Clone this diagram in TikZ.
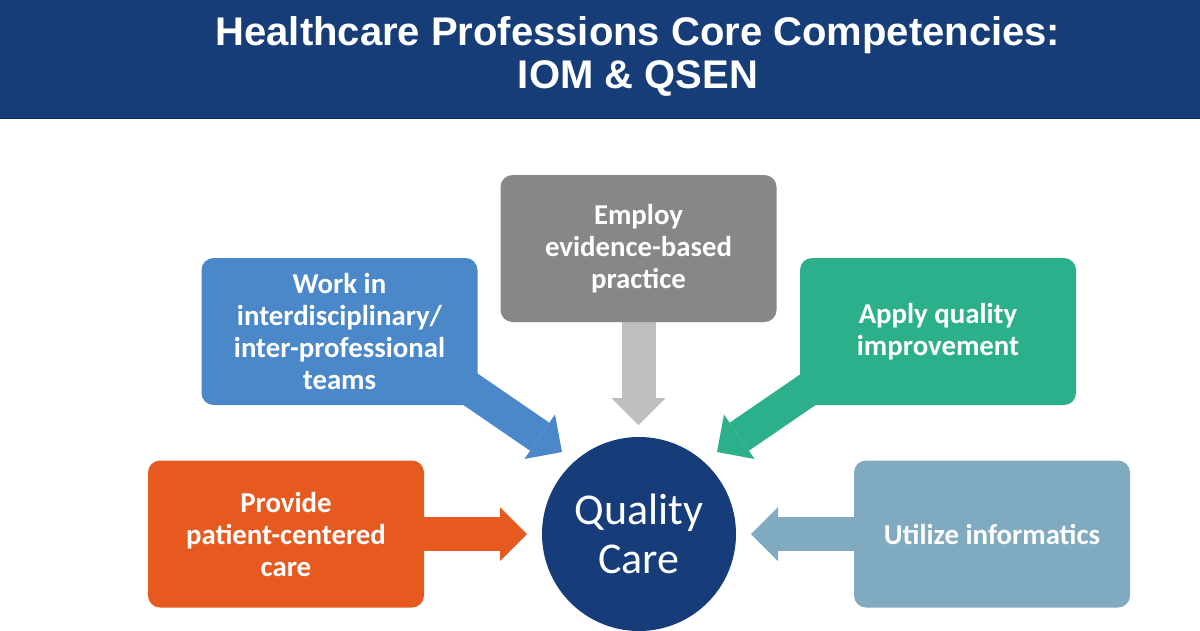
\documentclass[tikz,border=0pt]{standalone}
\usepackage{fontspec}
\setmainfont{Carlito}
\newfontfamily\titlefont{Liberation Sans}
\usetikzlibrary{arrows.meta,backgrounds}
\definecolor{hdr}{HTML}{163D78}
\definecolor{hdrline}{HTML}{0E2C5A}
\definecolor{boxgray}{HTML}{878787}
\definecolor{arrgray}{HTML}{BEBEBE}
\definecolor{boxblue}{HTML}{4A88C9}
\definecolor{boxgreen}{HTML}{2BB08B}
\definecolor{boxorange}{HTML}{E75A1F}
\definecolor{boxinfo}{HTML}{80AAC0}
\definecolor{circblue}{HTML}{163D7A}
\begin{document}
\begin{tikzpicture}[x=1pt,y=-1pt,
  compbox/.style={rectangle, rounded corners=12pt, minimum width=276pt, minimum height=147pt,
    inner sep=0pt, text=white, align=center, font=\bfseries\fontsize{28.8}{32}\selectfont},
  bigarrow/.style={line width=34pt, -{Triangle[length=27pt,width=54pt,line width=0pt]}}]
\useasboundingbox (0,0) rectangle (1200,630);
\fill[hdr] (0,0) rectangle (1200,119);
\draw[hdrline, line width=1.5pt] (0,118.5) -- (1200,118.5);
\node[font=\titlefont\bfseries\fontsize{40}{43}\selectfont, text=white, align=center, inner sep=0pt]
  (title) at (638,56) {Healthcare Professions Core Competencies:\\IOM \& QSEN};

\node[compbox, fill=boxgray] (evid) at (638.5,248.5) {Employ\\evidence-based\\practice};
\node[compbox, fill=boxblue] (team) at (339.5,331.5) {Work in\\interdisciplinary/\\inter-professional\\teams};
\node[compbox, fill=boxgreen] (qi) at (938,331.5) {Apply quality\\improvement};
\node[compbox, fill=boxorange] (pcc) at (286,534) {Provide\\patient-centered\\care};
\node[compbox, fill=boxinfo] (info) at (992,534) {Utilize informatics};

\node[circle, fill=circblue, minimum size=194pt, inner sep=0pt, text=white, align=center,
  font=\fontsize{44}{49}\selectfont] (qc) at (639,534) {Quality\\Care};

\coordinate (gt) at (638.5,425);
\coordinate (ot) at (527,534);
\coordinate (it) at (751,534);
\coordinate (bt) at (562,452);
\coordinate (bs) at (438,367);
\coordinate (gnt) at (717,452);
\coordinate (gns) at (841,367);

\begin{scope}[on background layer]
\fill[white] (0,119.25) rectangle (1200,630);
\draw[bigarrow, arrgray] (evid.south) -- (gt);
\draw[bigarrow, boxblue] (bs) -- (bt);
\draw[bigarrow, boxgreen] (gns) -- (gnt);
\draw[bigarrow, boxorange] (pcc.east) -- (ot);
\draw[bigarrow, boxinfo] (info.west) -- (it);
\end{scope}
\end{tikzpicture}
\end{document}
